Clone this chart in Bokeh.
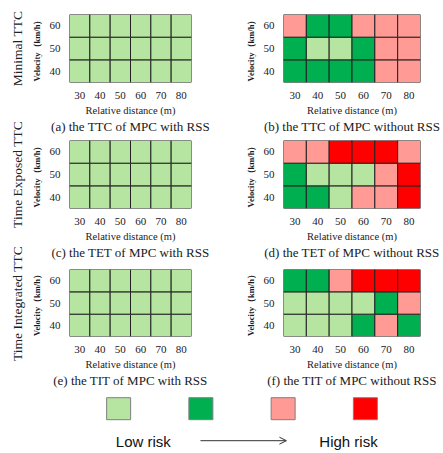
#Risk heatmaps of MPC with / without RSS

#Import required packages

from bokeh.plotting import figure
from bokeh.layouts import column, row
from bokeh.models import Title, Arrow, OpenHead, Range1d, ColumnDataSource
from bokeh.core.properties import value
from bokeh.embed import file_html
from bokeh.resources import INLINE
import math

#Data: relative distance (columns) and velocity (rows)

distances = ["30", "40", "50", "60", "70", "80"]
velocities = ["40", "50", "60"]

#Risk level of each cell (1 = low ... 4 = high), rows are 40, 50, 60 km/h

ttc_rss = [[1, 1, 1, 1, 1, 1],
           [1, 1, 1, 1, 1, 1],
           [1, 1, 1, 1, 1, 1]]
ttc_no_rss = [[2, 2, 2, 2, 3, 3],
              [2, 1, 1, 2, 3, 3],
              [3, 2, 2, 3, 3, 3]]
tet_rss = [[1, 1, 1, 1, 1, 1],
           [1, 1, 1, 1, 1, 1],
           [1, 1, 1, 1, 1, 1]]
tet_no_rss = [[2, 2, 1, 3, 3, 4],
              [2, 1, 1, 1, 3, 4],
              [3, 3, 4, 4, 4, 3]]
tit_rss = [[1, 1, 1, 1, 1, 1],
           [1, 1, 1, 1, 1, 1],
           [1, 1, 1, 1, 1, 1]]
tit_no_rss = [[1, 1, 1, 2, 3, 2],
              [1, 1, 1, 1, 2, 3],
              [2, 2, 3, 4, 4, 4]]

risk_levels = [1, 2, 3, 4]
risk_colors = ["#B5E5A0", "#00B050", "#FF9A94", "#FF0000"]
legend_labels = ["Low risk", "High risk"]

captions = ["(a) the TTC of MPC with RSS", "(b) the TTC of MPC without RSS",
            "(c) the TET of MPC with RSS", "(d) the TET of MPC without RSS",
            "(e) the TIT of MPC with RSS", "(f) the TIT of MPC without RSS"]
row_titles = ["Minimal TTC", "Time Exposed TTC", "Time Integrated TTC"]

SERIF = "Liberation Serif"

#Layout sizes (row height, space above the grid)
row_heights = [135, 129, 125]
row_tops = [14, 5, 5]
frame_h = 68


#Build one heatmap panel

def heat(levels, caption, r, left):
    xs, ys, cs = [], [], []
    for i, v in enumerate(velocities):
        for j, d in enumerate(distances):
            xs.append(d)
            ys.append(v)
            cs.append(risk_colors[levels[i][j] - 1])
    src = ColumnDataSource(data={'x': xs, 'y': ys, 'c': cs})

    height = row_heights[r]
    p = figure(x_range=distances, y_range=velocities, title=None,
               width=193 if left else 222, height=height,
               min_border_left=27 if left else 62,
               min_border_right=30 if left else 23,
               min_border_top=row_tops[r],
               min_border_bottom=height - row_tops[r] - frame_h,
               x_axis_label="Relative distance (m)",
               y_axis_label="Velocity（km/h）",
               toolbar_location=None, output_backend="svg")
    p.rect(x='x', y='y', width=1, height=1, source=src,
           fill_color='c', line_color="#222222", line_width=1)

    p.grid.visible = False
    p.outline_line_color = None
    for ax in (p.xaxis[0], p.yaxis[0]):
        ax.axis_line_color = None
        ax.major_tick_line_color = None
        ax.minor_tick_line_color = None
        ax.major_label_text_font = SERIF
        ax.major_label_text_font_size = "11px"
        ax.major_label_text_color = "#1a1a1a"
        ax.axis_label_text_font = SERIF
        ax.axis_label_text_color = "#1a1a1a"
        ax.major_label_standoff = 3
    xa = p.xaxis[0]
    xa.axis_label_standoff = 3
    xa.axis_label_text_font_size = "10.5px"
    xa.axis_label_text_font_style = "normal"
    ya = p.yaxis[0]
    ya.axis_label_standoff = 5
    ya.axis_label_text_font_size = "8.5px"
    ya.axis_label_text_font_style = "bold"

    cap = Title(text=caption, align="center", vertical_align="top", text_font=SERIF,
                text_font_size="13px", text_font_style="normal",
                text_color="#1a1a1a", standoff=0)
    p.add_layout(cap, "below")
    return p


pa = heat(ttc_rss, captions[0], 0, True)
pb = heat(ttc_no_rss, captions[1], 0, False)
pc = heat(tet_rss, captions[2], 1, True)
pd = heat(tet_no_rss, captions[3], 1, False)
pe = heat(tit_rss, captions[4], 2, True)
pf = heat(tit_no_rss, captions[5], 2, False)

#Row titles, centred on each row's grid

total_h = sum(row_heights)
centres = []
top = 0
for h, t in zip(row_heights, row_tops):
    centres.append(top + t + frame_h / 2)
    top += h

tp = figure(width=28, height=total_h, title=None,
            x_range=Range1d(0, 1), y_range=Range1d(total_h, 0),
            min_border=0, x_axis_location=None, y_axis_location=None,
            toolbar_location=None, output_backend="svg")
tp.grid.visible = False
tp.outline_line_color = None
tp.text(x=[0.6] * 3, y=centres, text=row_titles, angle=math.pi / 2,
        text_font=value(SERIF), text_font_size="13.5px", text_color="#222222",
        text_align="center", text_baseline="middle")

#Legend: colour scale from low to high risk

leg = figure(width=443, height=64, x_range=Range1d(0.5, 4.5), y_range=Range1d(0, 1), title=None,
             min_border_left=77, min_border_right=37, min_border_top=0, min_border_bottom=0,
             x_axis_location=None, y_axis_location=None,
             toolbar_location=None, output_backend="svg")
leg.grid.visible = False
leg.outline_line_color = None
leg.rect(x=risk_levels, y=0.70, width=24, height=22, width_units="screen", height_units="screen",
         fill_color=risk_colors, line_color="#7F7F7F", line_width=1)
leg.text(x=[1.30, 3.795], y=[0.19, 0.19], text=legend_labels,
         text_font=value("Liberation Sans"), text_font_size="15px",
         text_align="center", text_baseline="middle", text_color="#111111")
leg.add_layout(Arrow(x_start=1.995, y_start=0.2, x_end=3.04, y_end=0.2,
                     line_color="#333333", line_width=1,
                     end=OpenHead(size=7, line_color="#333333", line_width=1)))

grid = column(row(pa, pb), row(pc, pd), row(pe, pf))
p = column(row(tp, grid), leg)

#Output the page

open("out.html", "w").write(file_html(p, INLINE))
